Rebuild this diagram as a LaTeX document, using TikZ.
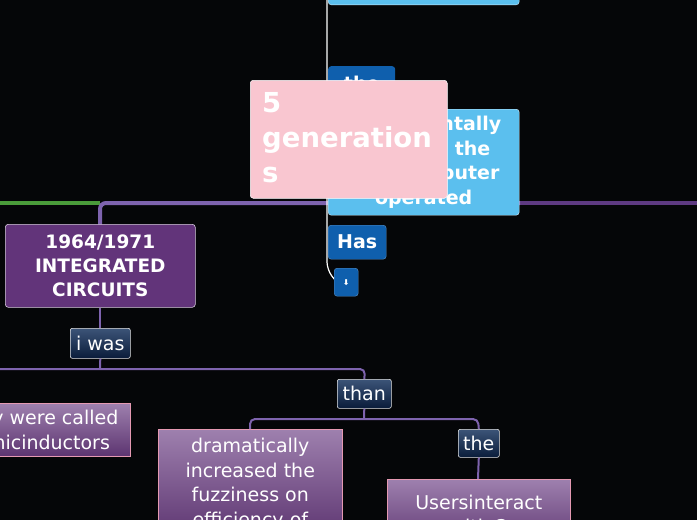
\documentclass[tikz,border=0pt]{standalone}
\usepackage{fontspec}
\setmainfont{DejaVu Sans}
\begin{document}
\begin{tikzpicture}[x=1pt,y=-1pt,
  lbl/.style={font=\fontsize{18}{20}\selectfont\bfseries,text=white,align=center},
  lnk/.style={draw=white!90!black,line width=0.6pt,rounded corners=2pt,font=\fontsize{19}{22}\selectfont,text=white,top color=navyA,bottom color=navyB,inner sep=1pt},
  pbox/.style={draw=white!60!purple,line width=0.6pt,top color=purpA,bottom color=purpB,font=\fontsize{19}{24.5}\selectfont,text=white,align=center},
  con/.style={line width=2pt,draw=lineP,rounded corners=5pt}]
\definecolor{bgc}{HTML}{050608}
\definecolor{lblue}{HTML}{5BBFEE}
\definecolor{dblue}{HTML}{0F5FAD}
\definecolor{pinkc}{HTML}{F9C6D0}
\definecolor{lineP}{HTML}{7E63AE}
\definecolor{lineD}{HTML}{5E3A82}
\definecolor{greenL}{HTML}{4A9B3A}
\definecolor{icP}{HTML}{62347A}
\definecolor{navyA}{HTML}{3C5478}
\definecolor{navyB}{HTML}{0A1C3A}
\definecolor{purpA}{HTML}{9E80AE}
\definecolor{purpB}{HTML}{5C3470}
\useasboundingbox (0,0) rectangle (697,520);
\clip (0,0) rectangle (697,520);
\fill[bgc] (0,0) rectangle (697,520);
\draw[greenL,line width=4pt] (0,203) -- (100,203);
\draw[lineD,line width=4pt] (440,203) -- (697,203);
\draw[lineP,line width=4pt,rounded corners=6pt] (100,230) -- (100,203) -- (520,203);
\coordinate (wt) at (327,-5);
\draw[white,line width=1.2pt,rounded corners=8pt] (wt) -- (327,270) -- (335,280);
\node[fill=lblue,draw=white!70!lblue,rounded corners=3pt,minimum width=191pt,minimum height=30pt,anchor=south west] (top) at (328,5) {};
\node[fill=dblue,rounded corners=3pt,anchor=north west,minimum width=67pt,minimum height=34pt,lbl,font=\fontsize{19}{20}\selectfont\bfseries] (the1) at (328,66) {the};
\node[fill=lblue,draw=white!70!lblue,rounded corners=3pt,anchor=north west,minimum width=191pt,minimum height=106pt,lbl,font=\fontsize{19}{24.5}\selectfont\bfseries] (fund) at (328,109) {fundamentally\\changed the\\way computer\\operated};
\node[fill=dblue,draw=white!30!dblue,rounded corners=3pt,anchor=north west,minimum width=58pt,minimum height=34pt,lbl,font=\fontsize{19}{20}\selectfont\bfseries] (has) at (328,225) {Has};
\node[fill=dblue,draw=white!30!dblue,rounded corners=3pt,anchor=north west,minimum width=24pt,minimum height=28pt,lbl,font=\fontsize{8}{10}\selectfont\bfseries] (arr) at (334,268) {⬇};
\node[fill=pinkc,draw=white,line width=0.5pt,rounded corners=3pt,anchor=north west,minimum width=197pt,minimum height=118pt] (five) at (250,80) {};
\node[anchor=north west,text=white,font=\fontsize{27.5}{35}\selectfont\bfseries,align=left,inner sep=0pt] (fivet) at (262,92) {5\\generation\\s};
\node[fill=icP,draw=white!75!icP,line width=0.6pt,rounded corners=3pt,anchor=north west,minimum width=190pt,minimum height=83pt,lbl,font=\fontsize{18.5}{24}\selectfont\bfseries] (ic) at (5,224) {1964/1971\\INTEGRATED\\CIRCUITS};
\node[lnk,anchor=north west,minimum width=60pt,minimum height=30pt] (iwas) at (70,328) {i was};
\draw[con] (ic.south) -- (iwas.north);
\node[lnk,anchor=north west,minimum width=54pt,minimum height=29pt] (than) at (337,379) {than};
\node[lnk,anchor=north west,minimum width=41pt,minimum height=28pt] (the2) at (458,429) {the};
\node[pbox,anchor=north east,minimum width=186pt,minimum height=53pt,text depth=0pt] (called) at (131,403) {They were called\\semicinductors};
\node[pbox,anchor=north west,minimum width=184pt,minimum height=110pt,inner sep=3pt] (dram) at (158,429) {dramatically\\increased the\\fuzziness on\\efficiency of};
\node[pbox,anchor=north west,minimum width=183pt,minimum height=70pt] (users) at (387,479) {Usersinteract\\with 3};
\coordinate (lft) at (-10,369);
\draw[con] (iwas.south) -- (100,369);
\draw[con] (lft) -- (365,369) -- (than.north);
\draw[con] (than.south) -- (364,419);
\draw[con] (250,429) -- (250,419) -- (478,419) -- (the2.north);
\draw[con] (the2.south) -- (478,479);
\end{tikzpicture}
\end{document}
